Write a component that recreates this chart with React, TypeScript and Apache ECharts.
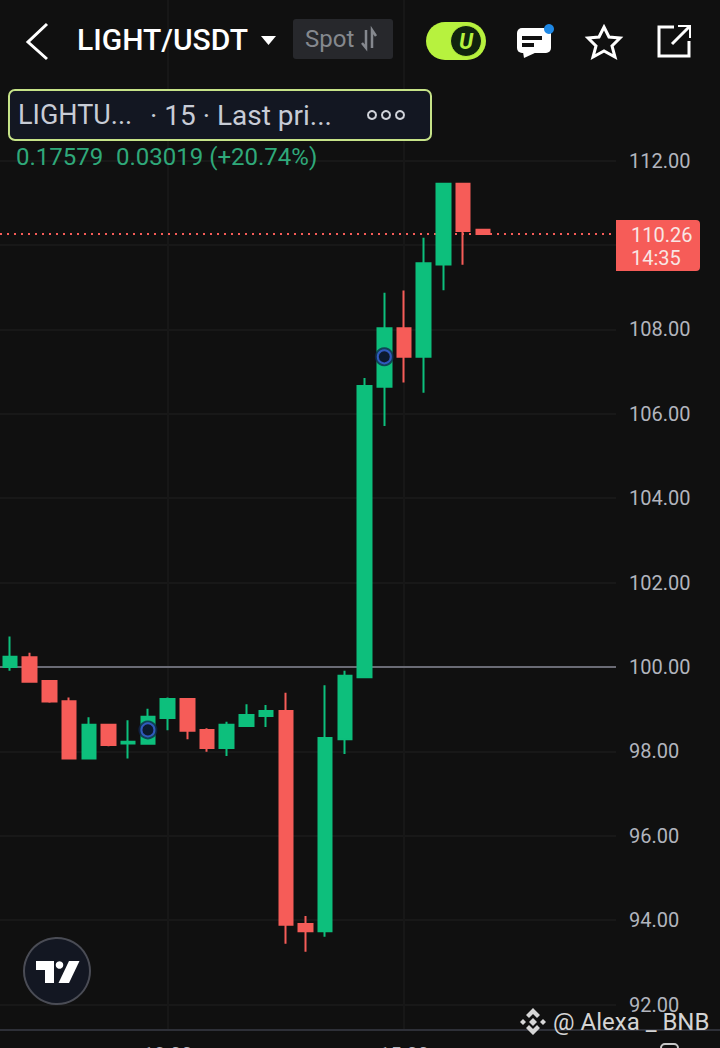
import React, { useEffect, useRef } from "react";
import * as echarts from "echarts";

const times = ["10:00","10:15","10:30","10:45","11:00","11:15","11:30","11:45","12:00","12:15","12:30","12:45","13:00","13:15","13:30","13:45","14:00","14:15","14:30","14:45","15:00","15:15","15:30","15:45","16:00"];
// open, close, low, high
const candles = [
  [100.0,100.24,99.91,100.72],[100.23,99.65,99.65,100.34],[99.67,99.18,99.15,99.67],[99.19,97.83,97.83,99.28],
  [97.83,98.63,97.83,98.81],[98.63,98.15,98.12,98.65],[98.19,98.23,97.83,98.74],[98.18,98.82,98.18,99.01],
  [98.79,99.24,98.5,99.28],[99.24,98.49,98.29,99.24],[98.51,98.08,97.99,98.55],[98.08,98.63,97.89,98.7],
  [98.6,98.86,98.6,99.12],[98.84,98.96,98.58,99.1],[98.96,93.89,93.44,99.39],[93.91,93.74,93.25,94.1],
  [93.74,98.32,93.61,99.57],[98.29,99.79,97.94,99.91],[99.76,106.66,99.74,106.85],[106.64,108.03,105.71,108.87],
  [108.03,107.35,106.74,108.92],[107.35,109.57,106.5,110.17],[109.54,111.45,108.93,111.47],[111.45,110.33,109.53,111.45],
  [110.36,110.26,110.26,110.36],
];
const markers = [[7, 98.51],[19, 107.35]];
const labelledTimes = ["12:00","15:00"];
const lastPrice = 110.26;
const refPrice = 100;
const padCategories = Array.from({ length: 12 }, (_, i) => "p" + i);

const UP = "#0DBF7C";
const DOWN = "#F65C58";
const BG = "#101010";
const PX = 42.2; // px per unit
const yAt = (v: number) => 667 - (v - 100) * PX;
const valAt = (y: number) => 100 + (667 - y) / PX;

export default function App() {
  const ref = useRef<HTMLDivElement>(null);
  useEffect(() => {
    const chart = echarts.init(ref.current!, null, { renderer: "svg" });
    const txt = (text: string, x: number, y: number, fontSize: number, fill: string, extra: any = {}) => ({
      type: "text", x, y, z: 50, style: { text, fontSize, fill, fontFamily: "Roboto", verticalAlign: "middle", ...extra },
    });
    chart.setOption({
      animation: false,
      backgroundColor: BG,
      grid: [
        { left: 0.15, top: 0, width: 19.7 * 37, height: 1030, outerBoundsMode: "none", containLabel: false },
        { left: 0, top: yAt(114), width: 616, height: yAt(92) - yAt(114), outerBoundsMode: "none", containLabel: false },
      ],
      xAxis: [
        {
          type: "category", gridIndex: 0, data: [...times, ...padCategories], boundaryGap: true,
          axisLine: { show: true, onZero: false, lineStyle: { color: "#2E3038", width: 2 } },
          axisTick: { show: false, alignWithLabel: true },
          splitLine: { show: true, alignWithLabel: true, interval: (_: number, v: string) => labelledTimes.includes(v), lineStyle: { color: "#171717", width: 2 } },
          axisLabel: { interval: (_: number, v: string) => labelledTimes.includes(v), color: "#B2B5BE", fontSize: 20, fontFamily: "Roboto", margin: 15, hideOverlap: false },
        },
        { type: "value", gridIndex: 1, min: 0, max: 1, show: false },
      ],
      yAxis: [
        { type: "value", gridIndex: 0, min: valAt(1030), max: valAt(0), show: false, splitLine: { show: false } },
        {
          type: "value", gridIndex: 1, min: 92, max: 114, interval: 2, position: "right",
          axisLine: { show: false }, axisTick: { show: false },
          splitLine: { show: true, showMaxLine: false, lineStyle: { color: "#181818", width: 2 } },
          axisLabel: { color: "#B2B5BE", fontSize: 20, fontFamily: "Roboto", margin: 13, showMaxLabel: false, formatter: (v: number) => v.toFixed(2) },
        },
      ],
      series: [
        {
          type: "line", xAxisIndex: 1, yAxisIndex: 1, data: [[0, refPrice],[1, refPrice]], symbol: "none",
          lineStyle: { color: "#6A6B75", width: 2 }, z: 1,
        },
        {
          type: "line", xAxisIndex: 1, yAxisIndex: 1, data: [[0, lastPrice],[1, lastPrice]], symbol: "none",
          lineStyle: { color: DOWN, width: 2, type: [2, 5] }, z: 1,
        },
        {
          type: "candlestick", xAxisIndex: 0, yAxisIndex: 0, data: candles, barWidth: 14, z: 3,
          itemStyle: { color: UP, color0: DOWN, borderColor: UP, borderColor0: DOWN, borderWidth: 2 },
        },
        {
          type: "scatter", xAxisIndex: 0, yAxisIndex: 0, data: markers, symbol: "circle", symbolSize: 19, z: 4,
          itemStyle: { color: "#10264C" },
        },
        {
          type: "scatter", xAxisIndex: 0, yAxisIndex: 0, data: markers, symbol: "circle", symbolSize: 13, z: 5,
          itemStyle: { color: "#0B1024", borderColor: "#3A64DC", borderWidth: 2 },
        },
      ],
      graphic: [
        { type: "polyline", z: 50, shape: { points: [[47, 24],[28, 42],[47, 59]] }, style: { stroke: "#fff", lineWidth: 3, fill: "none" } },
        txt("LIGHT/USDT", 77, 39, 30, "#fff", { fontWeight: 500 }),
        { type: "polygon", z: 50, shape: { points: [[261, 36],[276, 36],[268.5, 45]] }, style: { fill: "#fff" } },
        { type: "rect", z: 49, shape: { x: 293, y: 19, width: 100, height: 40, r: 3 }, style: { fill: "#27282C" } },
        txt("Spot", 305, 39, 24, "#85888E"),
        { type: "polyline", z: 50, shape: { points: [[366, 30],[366, 48],[362, 43]] }, style: { stroke: "#85888E", lineWidth: 2.5, fill: "none" } },
        { type: "polyline", z: 50, shape: { points: [[372, 48],[372, 30],[376, 36]] }, style: { stroke: "#85888E", lineWidth: 2.5, fill: "none" } },

        { type: "rect", z: 49, shape: { x: 426, y: 22, width: 60, height: 38, r: 19 }, style: { fill: "#B7F23E" } },
        { type: "circle", z: 50, shape: { cx: 466, cy: 41, r: 15.5 }, style: { fill: "#10240E", stroke: "#B7F23E", lineWidth: 1 } },
        txt("U", 466, 41, 22, "#B7F23E", { align: "center", fontWeight: 700, fontStyle: "italic" }),

        { type: "rect", z: 49, shape: { x: 517, y: 28, width: 34, height: 25, r: 5 }, style: { fill: "#fff" } },
        { type: "polygon", z: 49, shape: { points: [[523, 52],[537, 52],[524, 58]] }, style: { fill: "#fff" } },
        { type: "rect", z: 50, shape: { x: 522, y: 36, width: 20, height: 4 }, style: { fill: "#111" } },
        { type: "rect", z: 50, shape: { x: 522, y: 43, width: 12, height: 4 }, style: { fill: "#111" } },
        { type: "circle", z: 51, shape: { cx: 549, cy: 29, r: 5 }, style: { fill: "#1E88E5" } },

        { type: "polygon", z: 50, shape: { points: [[604, 27],[609, 37],[620, 38],[612, 46],[615, 57],[604, 51],[593, 57],[596, 46],[588, 38],[599, 37]] }, style: { stroke: "#fff", lineWidth: 3, fill: "none" } },
        { type: "polyline", z: 50, shape: { points: [[674, 27],[659, 27],[659, 56],[689, 56],[689, 41]] }, style: { stroke: "#fff", lineWidth: 3, fill: "none" } },
        { type: "polyline", z: 50, shape: { points: [[672, 44],[689, 27]] }, style: { stroke: "#fff", lineWidth: 3, fill: "none" } },
        { type: "polyline", z: 50, shape: { points: [[678, 26],[690, 26],[690, 38]] }, style: { stroke: "#fff", lineWidth: 2, fill: "none" } },

        { type: "rect", z: 49, shape: { x: 9, y: 90, width: 422, height: 50, r: 6 }, style: { fill: "#131722", stroke: "#C6E388", lineWidth: 2 } },
        txt("LIGHTU...", 18, 115, 27, "#C8CCD6"),
        txt("· 15 · Last pri...", 150, 115, 28, "#C8CCD6"),
        { type: "circle", z: 50, shape: { cx: 372, cy: 115, r: 4 }, style: { stroke: "#D0D3DA", lineWidth: 2, fill: "none" } },
        { type: "circle", z: 50, shape: { cx: 386, cy: 115, r: 4 }, style: { stroke: "#D0D3DA", lineWidth: 2, fill: "none" } },
        { type: "circle", z: 50, shape: { cx: 400, cy: 115, r: 4 }, style: { stroke: "#D0D3DA", lineWidth: 2, fill: "none" } },
        txt("0.17579", 16, 157, 24, "#2FA97A"),
        txt("0.03019 (+20.74%)", 116, 157, 24, "#2FA97A"),

        { type: "rect", z: 49, shape: { x: 616, y: 220, width: 84, height: 51, r: [0, 4, 4, 0] }, style: { fill: DOWN } },
        txt("110.26", 631, 235, 20, "#F8E6E4"),
        txt("14:35", 631, 258, 20, "#F8E6E4"),

        { type: "circle", z: 49, shape: { cx: 57, cy: 971, r: 33 }, style: { fill: "#131722", stroke: "#4A4C55", lineWidth: 2 } },
        { type: "polygon", z: 50, shape: { points: [[36, 961],[54, 961],[54, 983],[45, 983],[45, 970],[36, 970]] }, style: { fill: "#fff" } },
        { type: "circle", z: 50, shape: { cx: 59.5, cy: 965, r: 3.8 }, style: { fill: "#fff" } },
        { type: "polygon", z: 50, shape: { points: [[69, 961],[79.5, 961],[69, 983],[58.5, 983]] }, style: { fill: "#fff" } },

        { type: "polygon", z: 50, shape: { points: [[533, 1008],[540, 1015],[537, 1018],[533, 1014],[529, 1018],[526, 1015]] }, style: { fill: "#D6D6D6" } },
        { type: "polygon", z: 50, shape: { points: [[533, 1035],[526, 1028],[529, 1025],[533, 1029],[537, 1025],[540, 1028]] }, style: { fill: "#D6D6D6" } },
        { type: "polygon", z: 50, shape: { points: [[533, 1018],[537, 1022],[533, 1026],[529, 1022]] }, style: { fill: "#D6D6D6" } },
        { type: "polygon", z: 50, shape: { points: [[523, 1019],[526, 1022],[523, 1025],[520, 1022]] }, style: { fill: "#D6D6D6" } },
        { type: "polygon", z: 50, shape: { points: [[543, 1019],[546, 1022],[543, 1025],[540, 1022]] }, style: { fill: "#D6D6D6" } },
        txt("@ Alexa _ BNB", 553, 1022, 24, "#D4D4D4"),
        { type: "rect", z: 50, shape: { x: 661, y: 1044, width: 17, height: 12, r: 4 }, style: { stroke: "#C8C8C8", lineWidth: 2, fill: "none" } },
      ],
    });
    return () => chart.dispose();
  }, []);
  return <div ref={ref} style={{ position: "fixed", left: 0, top: 0, width: 720, height: 1048 }} />;
}
